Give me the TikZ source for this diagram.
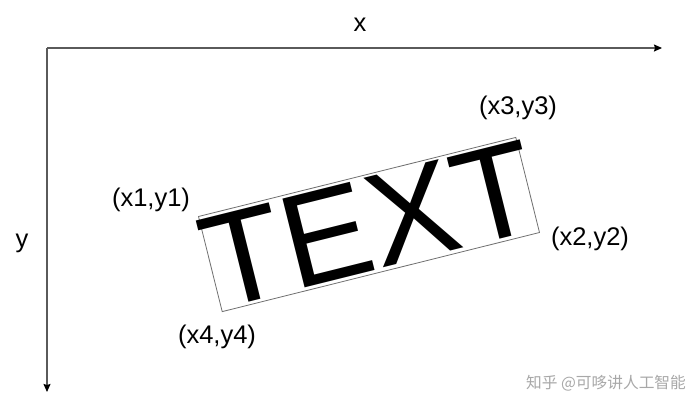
\documentclass[tikz,border=0pt]{standalone}
\usepackage{fontspec}
\setmainfont{Liberation Sans}
\newfontfamily\cjk{Noto Sans CJK SC}
\usetikzlibrary{arrows.meta}
\definecolor{axisgray}{HTML}{5A5A5A}
\definecolor{boxgray}{HTML}{707070}
\definecolor{wmgray}{HTML}{A8A8A8}
\begin{document}
\begin{tikzpicture}[x=1pt,y=-1pt,
  axis/.style={draw=axisgray,line width=1.3pt,-{Stealth[length=8pt,width=7pt,inset=1pt,color=black]}},
  lbl/.style={font=\fontsize{25.5}{26}\selectfont,inner sep=0pt},
  textbox/.style={draw=boxgray,line width=0.8pt,minimum width=327pt,minimum height=98pt,inner sep=0pt,rotate=14},
  bigtext/.style={inner sep=0pt,rotate=14,font=\fontsize{133}{133}\selectfont}]
\useasboundingbox (0,0) rectangle (700,415);
\fill[white] (0,0) rectangle (700,415);
\coordinate (O) at (47,48);
\coordinate (xend) at (662,48);
\coordinate (yend) at (47,392);
\draw[axis] (O) -- (xend);
\draw[axis] (O) -- (yend);
\node[lbl] (xl) at (360,25) {x};
\node[lbl] (yl) at (22,243) {y};
\node[textbox] (box) at (369,224.5) {};
\node[bigtext] (txt) at (box.center) {TEXT};
\node[lbl] (p1) at (151,200) {(x1,y1)};
\node[lbl] (p3) at (518,108) {(x3,y3)};
\node[lbl] (p2) at (590,239) {(x2,y2)};
\node[lbl] (p4) at (217,337) {(x4,y4)};
\node[inner sep=0pt,text=wmgray,font=\cjk\fontsize{15.7}{16}\selectfont,anchor=west] (wm) at (526,383) {知乎 @可哆讲人工智能};
\end{tikzpicture}
\end{document}
